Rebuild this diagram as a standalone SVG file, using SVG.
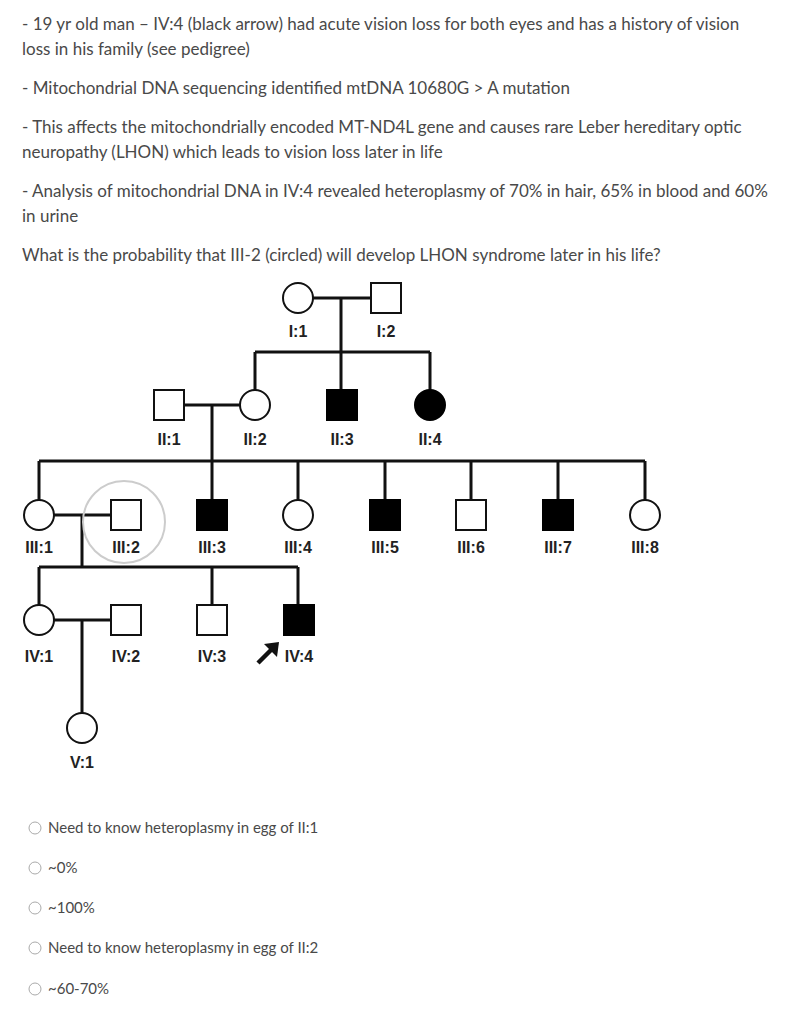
<svg xmlns="http://www.w3.org/2000/svg" width="795" height="1024" viewBox="0 0 795 1024">
<style>
.t{font-family:Lato,"Liberation Sans",sans-serif;font-size:15px;fill:#494949}
.h{font-size:17px}
.l{font-family:"Liberation Sans",Arial,sans-serif;font-size:16px;font-weight:bold;fill:#222}
.n{fill:#fff;stroke:#111;stroke-width:2}
.a{fill:#000;stroke:#000;stroke-width:2}
.c{stroke:#111;stroke-width:3;fill:none}
.r{fill:#fff;stroke:#aaa;stroke-width:1}
</style>
<rect width="795" height="1024" fill="#fff"/>
<g id="text">
<text class="t h" x="22" y="30">- 19 yr old man – IV:4 (black arrow) had acute vision loss for both eyes and has a history of vision</text>
<text class="t h" x="22" y="55">loss in his family (see pedigree)</text>
<text class="t h" x="22" y="94">- Mitochondrial DNA sequencing identified mtDNA 10680G &gt; A mutation</text>
<text class="t h" x="22" y="133">- This affects the mitochondrially encoded MT-ND4L gene and causes rare Leber hereditary optic</text>
<text class="t h" x="22" y="158">neuropathy (LHON) which leads to vision loss later in life</text>
<text class="t h" x="22" y="197">- Analysis of mitochondrial DNA in IV:4 revealed heteroplasmy of 70% in hair, 65% in blood and 60%</text>
<text class="t h" x="22" y="222">in urine</text>
<text class="t h" x="22" y="261">What is the probability that III-2 (circled) will develop LHON syndrome later in his life?</text>
</g>
<g id="connectors">
<path class="c" d="M313 298H371M341 298V352M255 352H430M255 352V390M341 352V390M430 352V390"/>
<path class="c" d="M184 405H240M212 405V461M39 461H645M39 461V500M212 461V500M298 461V500M385 461V500M471 461V500M558 461V500M645 461V500"/>
<path class="c" d="M54 515H111M82 515V567M39 567H298M39 567V605M212 567V605M298 567V605"/>
<path class="c" d="M54 620H111M82 620V713"/>
</g>
<g id="I1"><circle class="n" cx="298" cy="298" r="15"/><text class="l" x="298" y="337" text-anchor="middle">I:1</text></g>
<g id="I2"><rect class="n" x="371" y="283" width="30" height="30"/><text class="l" x="386" y="337" text-anchor="middle">I:2</text></g>
<g id="II1"><rect class="n" x="154" y="390" width="30" height="30"/><text class="l" x="169" y="445" text-anchor="middle">II:1</text></g>
<g id="II2"><circle class="n" cx="255" cy="405" r="15"/><text class="l" x="255" y="445" text-anchor="middle">II:2</text></g>
<g id="II3"><rect class="a" x="327" y="390" width="30" height="30"/><text class="l" x="342" y="445" text-anchor="middle">II:3</text></g>
<g id="II4"><circle class="a" cx="430" cy="405" r="15"/><text class="l" x="430" y="445" text-anchor="middle">II:4</text></g>
<g id="III1"><circle class="n" cx="39" cy="515" r="15"/><text class="l" x="39" y="553" text-anchor="middle">III:1</text></g>
<g id="III2"><circle cx="124" cy="522" r="41" fill="none" stroke="#ccc" stroke-width="2"/><rect class="n" x="111" y="500" width="30" height="30"/><text class="l" x="126" y="553" text-anchor="middle">III:2</text></g>
<g id="III3"><rect class="a" x="197" y="500" width="30" height="30"/><text class="l" x="212" y="553" text-anchor="middle">III:3</text></g>
<g id="III4"><circle class="n" cx="298" cy="515" r="15"/><text class="l" x="298" y="553" text-anchor="middle">III:4</text></g>
<g id="III5"><rect class="a" x="370" y="500" width="30" height="30"/><text class="l" x="385" y="553" text-anchor="middle">III:5</text></g>
<g id="III6"><rect class="n" x="456" y="500" width="30" height="30"/><text class="l" x="471" y="553" text-anchor="middle">III:6</text></g>
<g id="III7"><rect class="a" x="543" y="500" width="30" height="30"/><text class="l" x="558" y="553" text-anchor="middle">III:7</text></g>
<g id="III8"><circle class="n" cx="645" cy="515" r="15"/><text class="l" x="645" y="553" text-anchor="middle">III:8</text></g>
<g id="IV1"><circle class="n" cx="39" cy="620" r="15"/><text class="l" x="39" y="662" text-anchor="middle">IV:1</text></g>
<g id="IV2"><rect class="n" x="111" y="605" width="30" height="30"/><text class="l" x="126" y="662" text-anchor="middle">IV:2</text></g>
<g id="IV3"><rect class="n" x="197" y="605" width="30" height="30"/><text class="l" x="212" y="662" text-anchor="middle">IV:3</text></g>
<g id="IV4"><rect class="a" x="284" y="605" width="30" height="30"/><text class="l" x="299" y="662" text-anchor="middle">IV:4</text>
<path d="M258 663L272 649" stroke="#111" stroke-width="4.5"/><polygon points="279,642 277,657 264,644" fill="#111"/></g>
<g id="V1"><circle class="n" cx="82" cy="728" r="15"/><text class="l" x="82" y="768" text-anchor="middle">V:1</text></g>
<g id="options">
<circle class="r" cx="35" cy="828" r="6"/><text class="t" x="48" y="833">Need to know heteroplasmy in egg of II:1</text>
<circle class="r" cx="35" cy="868" r="6"/><text class="t" x="48" y="873">~0%</text>
<circle class="r" cx="35" cy="908" r="6"/><text class="t" x="48" y="913">~100%</text>
<circle class="r" cx="35" cy="948" r="6"/><text class="t" x="48" y="953">Need to know heteroplasmy in egg of II:2</text>
<circle class="r" cx="35" cy="989" r="6"/><text class="t" x="48" y="994">~60-70%</text>
</g>
</svg>
